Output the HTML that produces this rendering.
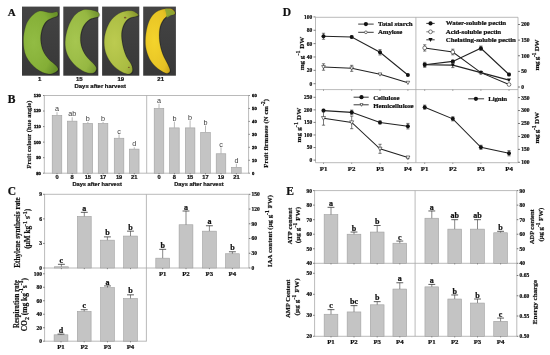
<!DOCTYPE html><html><head><meta charset="utf-8"><style>html,body{margin:0;padding:0;background:#fff;}svg{display:block;filter:blur(0.3px);} text{stroke:#111;stroke-width:0.22px;} .lt{stroke:none;fill:#3a3a3a;} .ns{stroke-width:0.2px;} .hv{stroke-width:0.45px;}</style></head><body>
<svg width="550" height="355" viewBox="0 0 550 355">
<rect x="0" y="0" width="550" height="355" fill="#ffffff"/>
<defs>
<linearGradient id="bg" x1="0" y1="0" x2="0" y2="1"><stop offset="0" stop-color="#444444"/><stop offset="1" stop-color="#383838"/></linearGradient>
<radialGradient id="g1" cx="0.3" cy="0.5" r="0.75"><stop offset="0" stop-color="#92bc44"/><stop offset="0.7" stop-color="#84ae36"/><stop offset="1" stop-color="#6a922a"/></radialGradient>
<radialGradient id="g2" cx="0.3" cy="0.5" r="0.75"><stop offset="0" stop-color="#a6c650"/><stop offset="0.7" stop-color="#96b842"/><stop offset="1" stop-color="#789a32"/></radialGradient>
<radialGradient id="g3" cx="0.3" cy="0.5" r="0.75"><stop offset="0" stop-color="#bccb50"/><stop offset="0.7" stop-color="#aabc42"/><stop offset="1" stop-color="#8c9c30"/></radialGradient>
<radialGradient id="g4" cx="0.3" cy="0.5" r="0.75"><stop offset="0" stop-color="#f4d42c"/><stop offset="0.7" stop-color="#e6c224"/><stop offset="1" stop-color="#c09a18"/></radialGradient>
</defs>
<text x="11.80" y="16.00" font-family='"Liberation Serif", serif' font-size="11" font-weight="bold" text-anchor="middle" fill="#111111">A</text>
<rect x="22.00" y="6.60" width="37.70" height="69.10" fill="url(#bg)"/>
<path d="M 57.06 11.78 C 55.93 11.26 53.54 12.93 50.65 12.82 C 47.76 12.70 42.94 10.46 39.72 11.09 C 36.50 11.72 33.64 14.13 31.31 16.62 C 28.98 19.11 27.05 22.02 25.73 26.02 C 24.42 30.01 23.36 35.55 23.43 40.60 C 23.50 45.64 23.97 51.58 26.15 56.28 C 28.33 60.98 32.72 65.83 36.51 68.79 C 40.31 71.75 45.40 73.77 48.92 74.04 C 52.44 74.32 56.41 71.84 57.63 70.45 C 58.84 69.05 57.65 67.52 56.19 65.68 C 54.74 63.84 51.10 61.83 48.92 59.39 C 46.74 56.95 44.49 54.16 43.11 51.03 C 41.74 47.90 40.90 44.08 40.66 40.60 C 40.42 37.12 40.82 33.30 41.68 30.16 C 42.54 27.03 44.10 23.83 45.83 21.80 C 47.55 19.78 50.11 18.98 52.05 18.00 C 53.98 17.02 56.60 16.97 57.44 15.93 C 58.27 14.89 58.19 12.30 57.06 11.78 Z" fill="rgba(0,0,0,0.28)" transform="translate(0.9 0.6)"/>
<path d="M 57.06 11.78 C 55.93 11.26 53.54 12.93 50.65 12.82 C 47.76 12.70 42.94 10.46 39.72 11.09 C 36.50 11.72 33.64 14.13 31.31 16.62 C 28.98 19.11 27.05 22.02 25.73 26.02 C 24.42 30.01 23.36 35.55 23.43 40.60 C 23.50 45.64 23.97 51.58 26.15 56.28 C 28.33 60.98 32.72 65.83 36.51 68.79 C 40.31 71.75 45.40 73.77 48.92 74.04 C 52.44 74.32 56.41 71.84 57.63 70.45 C 58.84 69.05 57.65 67.52 56.19 65.68 C 54.74 63.84 51.10 61.83 48.92 59.39 C 46.74 56.95 44.49 54.16 43.11 51.03 C 41.74 47.90 40.90 44.08 40.66 40.60 C 40.42 37.12 40.82 33.30 41.68 30.16 C 42.54 27.03 44.10 23.83 45.83 21.80 C 47.55 19.78 50.11 18.98 52.05 18.00 C 53.98 17.02 56.60 16.97 57.44 15.93 C 58.27 14.89 58.19 12.30 57.06 11.78 Z" fill="url(#g1)" stroke="rgba(40,50,20,0.35)" stroke-width="0.6"/>
<rect x="63.30" y="6.60" width="35.00" height="69.10" fill="url(#bg)"/>
<path d="M 98.30 12.47 C 97.13 11.36 93.87 10.34 91.30 9.92 C 88.73 9.49 85.70 8.97 82.90 9.92 C 80.10 10.86 76.95 12.73 74.50 15.58 C 72.05 18.44 69.75 22.70 68.20 27.05 C 66.65 31.41 65.35 37.18 65.19 41.70 C 65.03 46.23 65.70 50.39 67.25 54.21 C 68.81 58.03 71.54 61.68 74.50 64.64 C 77.46 67.60 81.87 70.59 85.00 71.97 C 88.13 73.35 91.39 73.47 93.30 72.94 C 95.20 72.41 96.23 70.17 96.41 68.79 C 96.58 67.41 95.90 66.56 94.34 64.64 C 92.79 62.73 89.18 60.11 87.10 57.32 C 85.02 54.53 82.97 51.23 81.85 47.92 C 80.73 44.62 80.20 40.97 80.38 37.49 C 80.55 34.01 81.44 30.01 82.90 27.05 C 84.36 24.09 86.56 21.47 89.13 19.73 C 91.70 17.99 96.77 17.83 98.30 16.62 C 99.83 15.41 99.47 13.59 98.30 12.47 Z" fill="rgba(0,0,0,0.28)" transform="translate(0.9 0.6)"/>
<path d="M 98.30 12.47 C 97.13 11.36 93.87 10.34 91.30 9.92 C 88.73 9.49 85.70 8.97 82.90 9.92 C 80.10 10.86 76.95 12.73 74.50 15.58 C 72.05 18.44 69.75 22.70 68.20 27.05 C 66.65 31.41 65.35 37.18 65.19 41.70 C 65.03 46.23 65.70 50.39 67.25 54.21 C 68.81 58.03 71.54 61.68 74.50 64.64 C 77.46 67.60 81.87 70.59 85.00 71.97 C 88.13 73.35 91.39 73.47 93.30 72.94 C 95.20 72.41 96.23 70.17 96.41 68.79 C 96.58 67.41 95.90 66.56 94.34 64.64 C 92.79 62.73 89.18 60.11 87.10 57.32 C 85.02 54.53 82.97 51.23 81.85 47.92 C 80.73 44.62 80.20 40.97 80.38 37.49 C 80.55 34.01 81.44 30.01 82.90 27.05 C 84.36 24.09 86.56 21.47 89.13 19.73 C 91.70 17.99 96.77 17.83 98.30 16.62 C 99.83 15.41 99.47 13.59 98.30 12.47 Z" fill="url(#g2)" stroke="rgba(40,50,20,0.35)" stroke-width="0.6"/>
<rect x="102.10" y="6.60" width="37.20" height="69.10" fill="url(#bg)"/>
<path d="M 138.26 14.55 C 137.39 13.64 134.27 11.09 131.38 10.75 C 128.49 10.40 124.23 10.98 120.92 12.47 C 117.61 13.97 114.02 16.61 111.51 19.73 C 109.00 22.85 107.08 27.36 105.86 31.20 C 104.64 35.03 104.11 38.90 104.18 42.74 C 104.25 46.57 104.88 50.56 106.27 54.21 C 107.66 57.86 109.90 61.68 112.52 64.64 C 115.13 67.60 119.17 70.40 121.96 71.97 C 124.75 73.53 127.51 74.23 129.26 74.04 C 131.00 73.86 132.06 72.43 132.42 70.86 C 132.77 69.30 132.42 67.07 131.38 64.64 C 130.33 62.21 127.60 59.59 126.13 56.28 C 124.66 52.98 123.33 48.64 122.56 44.81 C 121.79 40.99 121.27 36.82 121.52 33.34 C 121.77 29.86 122.76 26.45 124.05 23.94 C 125.34 21.43 127.17 19.57 129.26 18.28 C 131.35 16.99 135.08 16.83 136.58 16.20 C 138.08 15.58 139.13 15.46 138.26 14.55 Z" fill="rgba(0,0,0,0.28)" transform="translate(0.9 0.6)"/>
<path d="M 138.26 14.55 C 137.39 13.64 134.27 11.09 131.38 10.75 C 128.49 10.40 124.23 10.98 120.92 12.47 C 117.61 13.97 114.02 16.61 111.51 19.73 C 109.00 22.85 107.08 27.36 105.86 31.20 C 104.64 35.03 104.11 38.90 104.18 42.74 C 104.25 46.57 104.88 50.56 106.27 54.21 C 107.66 57.86 109.90 61.68 112.52 64.64 C 115.13 67.60 119.17 70.40 121.96 71.97 C 124.75 73.53 127.51 74.23 129.26 74.04 C 131.00 73.86 132.06 72.43 132.42 70.86 C 132.77 69.30 132.42 67.07 131.38 64.64 C 130.33 62.21 127.60 59.59 126.13 56.28 C 124.66 52.98 123.33 48.64 122.56 44.81 C 121.79 40.99 121.27 36.82 121.52 33.34 C 121.77 29.86 122.76 26.45 124.05 23.94 C 125.34 21.43 127.17 19.57 129.26 18.28 C 131.35 16.99 135.08 16.83 136.58 16.20 C 138.08 15.58 139.13 15.46 138.26 14.55 Z" fill="url(#g3)" stroke="rgba(40,50,20,0.35)" stroke-width="0.6"/>
<ellipse cx="125.16" cy="17.66" rx="1.3" ry="0.8" fill="#7a5a2a"/>
<ellipse cx="128.88" cy="67.41" rx="0.9" ry="0.6" fill="#7a5a2a"/>
<rect x="143.20" y="6.60" width="32.70" height="69.10" fill="url(#bg)"/>
<path d="M 174.43 11.44 C 173.87 10.53 173.05 9.03 171.09 8.67 C 169.14 8.32 165.49 8.49 162.69 9.29 C 159.89 10.10 156.69 11.24 154.32 13.51 C 151.94 15.78 149.90 18.91 148.43 22.91 C 146.97 26.90 145.87 32.97 145.52 37.49 C 145.17 42.00 145.40 45.99 146.34 49.99 C 147.28 54.00 148.98 58.23 151.18 61.53 C 153.38 64.84 156.93 67.85 159.55 69.83 C 162.17 71.81 165.13 73.25 166.87 73.42 C 168.62 73.59 169.84 72.33 170.01 70.86 C 170.19 69.40 169.14 67.42 167.92 64.64 C 166.70 61.87 164.08 58.03 162.69 54.21 C 161.29 50.39 160.07 45.88 159.55 41.70 C 159.03 37.52 159.03 32.62 159.55 29.13 C 160.07 25.64 161.29 23.02 162.69 20.77 C 164.08 18.51 165.96 16.69 167.92 15.58 C 169.88 14.48 173.34 14.82 174.43 14.13 C 175.51 13.44 174.98 12.35 174.43 11.44 Z" fill="rgba(0,0,0,0.28)" transform="translate(0.9 0.6)"/>
<path d="M 174.43 11.44 C 173.87 10.53 173.05 9.03 171.09 8.67 C 169.14 8.32 165.49 8.49 162.69 9.29 C 159.89 10.10 156.69 11.24 154.32 13.51 C 151.94 15.78 149.90 18.91 148.43 22.91 C 146.97 26.90 145.87 32.97 145.52 37.49 C 145.17 42.00 145.40 45.99 146.34 49.99 C 147.28 54.00 148.98 58.23 151.18 61.53 C 153.38 64.84 156.93 67.85 159.55 69.83 C 162.17 71.81 165.13 73.25 166.87 73.42 C 168.62 73.59 169.84 72.33 170.01 70.86 C 170.19 69.40 169.14 67.42 167.92 64.64 C 166.70 61.87 164.08 58.03 162.69 54.21 C 161.29 50.39 160.07 45.88 159.55 41.70 C 159.03 37.52 159.03 32.62 159.55 29.13 C 160.07 25.64 161.29 23.02 162.69 20.77 C 164.08 18.51 165.96 16.69 167.92 15.58 C 169.88 14.48 173.34 14.82 174.43 14.13 C 175.51 13.44 174.98 12.35 174.43 11.44 Z" fill="url(#g4)" stroke="rgba(40,50,20,0.35)" stroke-width="0.6"/>
<path d="M 164.78 9.02 Q 169.36 7.98 174.43 11.44 L 174.43 14.13 Q 170.67 14.89 166.74 17.66 Q 166.09 12.13 164.78 9.02 Z" fill="#8aa634" opacity="0.9"/>
<text x="39.70" y="81.30" font-family='"Liberation Sans", sans-serif' font-size="6.0" font-weight="bold" text-anchor="middle" fill="#111111" stroke="#111111" stroke-width="0.2">1</text>
<text x="79.30" y="81.30" font-family='"Liberation Sans", sans-serif' font-size="6.0" font-weight="bold" text-anchor="middle" fill="#111111" stroke="#111111" stroke-width="0.2">15</text>
<text x="120.80" y="81.30" font-family='"Liberation Sans", sans-serif' font-size="6.0" font-weight="bold" text-anchor="middle" fill="#111111" stroke="#111111" stroke-width="0.2">19</text>
<text x="160.70" y="81.30" font-family='"Liberation Sans", sans-serif' font-size="6.0" font-weight="bold" text-anchor="middle" fill="#111111" stroke="#111111" stroke-width="0.2">21</text>
<text x="100.25" y="88.30" font-family='"Liberation Sans", sans-serif' font-size="6.0" font-weight="bold" text-anchor="middle" fill="#111111" textLength="51.5" lengthAdjust="spacingAndGlyphs" stroke="#111111" stroke-width="0.25">Days after harvest</text>
<text x="11.50" y="102.80" font-family='"Liberation Serif", serif' font-size="11.5" font-weight="bold" text-anchor="middle" fill="#111111">B</text>
<line x1="44.30" y1="95.50" x2="248.60" y2="95.50" stroke="#a8a8a8" stroke-width="0.8"/>
<line x1="44.30" y1="95.50" x2="44.30" y2="173.20" stroke="#a8a8a8" stroke-width="0.8"/>
<line x1="146.70" y1="95.50" x2="146.70" y2="173.20" stroke="#a8a8a8" stroke-width="0.8"/>
<line x1="248.60" y1="95.50" x2="248.60" y2="173.20" stroke="#a8a8a8" stroke-width="0.8"/>
<line x1="44.30" y1="173.20" x2="248.60" y2="173.20" stroke="#a8a8a8" stroke-width="0.8"/>
<line x1="43.10" y1="173.20" x2="44.30" y2="173.20" stroke="#444" stroke-width="0.7"/>
<g transform="translate(40.80 174.64) scale(0.8 0.78)"><text class="hv" x="0" y="0" font-family='"Liberation Sans", sans-serif' font-size="5.2" font-weight="bold" text-anchor="end" fill="#111111">80</text></g>
<line x1="43.10" y1="157.66" x2="44.30" y2="157.66" stroke="#444" stroke-width="0.7"/>
<g transform="translate(40.80 159.10) scale(0.8 0.78)"><text class="hv" x="0" y="0" font-family='"Liberation Sans", sans-serif' font-size="5.2" font-weight="bold" text-anchor="end" fill="#111111">90</text></g>
<line x1="43.10" y1="142.12" x2="44.30" y2="142.12" stroke="#444" stroke-width="0.7"/>
<g transform="translate(40.80 143.56) scale(0.8 0.78)"><text class="hv" x="0" y="0" font-family='"Liberation Sans", sans-serif' font-size="5.2" font-weight="bold" text-anchor="end" fill="#111111">100</text></g>
<line x1="43.10" y1="126.58" x2="44.30" y2="126.58" stroke="#444" stroke-width="0.7"/>
<g transform="translate(40.80 128.02) scale(0.8 0.78)"><text class="hv" x="0" y="0" font-family='"Liberation Sans", sans-serif' font-size="5.2" font-weight="bold" text-anchor="end" fill="#111111">110</text></g>
<line x1="43.10" y1="111.04" x2="44.30" y2="111.04" stroke="#444" stroke-width="0.7"/>
<g transform="translate(40.80 112.48) scale(0.8 0.78)"><text class="hv" x="0" y="0" font-family='"Liberation Sans", sans-serif' font-size="5.2" font-weight="bold" text-anchor="end" fill="#111111">120</text></g>
<line x1="43.10" y1="95.50" x2="44.30" y2="95.50" stroke="#444" stroke-width="0.7"/>
<g transform="translate(40.80 96.94) scale(0.8 0.78)"><text class="hv" x="0" y="0" font-family='"Liberation Sans", sans-serif' font-size="5.2" font-weight="bold" text-anchor="end" fill="#111111">130</text></g>
<rect x="52.20" y="115.39" width="9.60" height="57.81" fill="#c4c4c4" stroke="#a0a0a0" stroke-width="0.6"/>
<line x1="57.00" y1="112.13" x2="57.00" y2="115.39" stroke="#b0b0b0" stroke-width="0.9"/>
<line x1="57.00" y1="173.20" x2="57.00" y2="174.40" stroke="#555" stroke-width="0.6"/>
<text x="57.00" y="111.33" font-family='"Liberation Sans", sans-serif' font-size="7.2" font-weight="normal" text-anchor="middle" fill="#111111" class="lt">a</text>
<rect x="67.40" y="121.14" width="9.60" height="52.06" fill="#c4c4c4" stroke="#a0a0a0" stroke-width="0.6"/>
<line x1="72.20" y1="117.26" x2="72.20" y2="121.14" stroke="#b0b0b0" stroke-width="0.9"/>
<line x1="72.20" y1="173.20" x2="72.20" y2="174.40" stroke="#555" stroke-width="0.6"/>
<text x="72.20" y="116.46" font-family='"Liberation Sans", sans-serif' font-size="7.2" font-weight="normal" text-anchor="middle" fill="#111111" class="lt">ab</text>
<rect x="83.05" y="123.47" width="9.60" height="49.73" fill="#c4c4c4" stroke="#a0a0a0" stroke-width="0.6"/>
<line x1="87.85" y1="121.92" x2="87.85" y2="123.47" stroke="#b0b0b0" stroke-width="0.9"/>
<line x1="87.85" y1="173.20" x2="87.85" y2="174.40" stroke="#555" stroke-width="0.6"/>
<text x="87.85" y="121.12" font-family='"Liberation Sans", sans-serif' font-size="7.2" font-weight="normal" text-anchor="middle" fill="#111111" class="lt">b</text>
<rect x="98.25" y="123.47" width="9.60" height="49.73" fill="#c4c4c4" stroke="#a0a0a0" stroke-width="0.6"/>
<line x1="103.05" y1="121.92" x2="103.05" y2="123.47" stroke="#b0b0b0" stroke-width="0.9"/>
<line x1="103.05" y1="173.20" x2="103.05" y2="174.40" stroke="#555" stroke-width="0.6"/>
<text x="103.05" y="121.12" font-family='"Liberation Sans", sans-serif' font-size="7.2" font-weight="normal" text-anchor="middle" fill="#111111" class="lt">b</text>
<rect x="114.25" y="138.23" width="9.60" height="34.97" fill="#c4c4c4" stroke="#a0a0a0" stroke-width="0.6"/>
<line x1="119.05" y1="134.35" x2="119.05" y2="138.23" stroke="#b0b0b0" stroke-width="0.9"/>
<line x1="119.05" y1="173.20" x2="119.05" y2="174.40" stroke="#555" stroke-width="0.6"/>
<text x="119.05" y="133.55" font-family='"Liberation Sans", sans-serif' font-size="7.2" font-weight="normal" text-anchor="middle" fill="#111111" class="lt">c</text>
<rect x="129.45" y="149.11" width="9.60" height="24.09" fill="#c4c4c4" stroke="#a0a0a0" stroke-width="0.6"/>
<line x1="134.25" y1="147.25" x2="134.25" y2="149.11" stroke="#b0b0b0" stroke-width="0.9"/>
<line x1="134.25" y1="173.20" x2="134.25" y2="174.40" stroke="#555" stroke-width="0.6"/>
<text x="134.25" y="146.45" font-family='"Liberation Sans", sans-serif' font-size="7.2" font-weight="normal" text-anchor="middle" fill="#111111" class="lt">d</text>
<text x="57.00" y="179.20" font-family='"Liberation Sans", sans-serif' font-size="5.7" font-weight="bold" text-anchor="middle" fill="#111111">0</text>
<text x="72.20" y="179.20" font-family='"Liberation Sans", sans-serif' font-size="5.7" font-weight="bold" text-anchor="middle" fill="#111111">8</text>
<text x="87.85" y="179.20" font-family='"Liberation Sans", sans-serif' font-size="5.7" font-weight="bold" text-anchor="middle" fill="#111111">15</text>
<text x="103.05" y="179.20" font-family='"Liberation Sans", sans-serif' font-size="5.7" font-weight="bold" text-anchor="middle" fill="#111111">17</text>
<text x="119.05" y="179.20" font-family='"Liberation Sans", sans-serif' font-size="5.7" font-weight="bold" text-anchor="middle" fill="#111111">19</text>
<text x="134.25" y="179.20" font-family='"Liberation Sans", sans-serif' font-size="5.7" font-weight="bold" text-anchor="middle" fill="#111111">21</text>
<text x="97.10" y="185.50" font-family='"Liberation Sans", sans-serif' font-size="5.75" font-weight="bold" text-anchor="middle" fill="#111111" textLength="49.4" lengthAdjust="spacingAndGlyphs" stroke="#111111" stroke-width="0.25">Days after harvest</text>
<text id="rl1" x="30.88" y="134.50" font-family='"Liberation Serif", serif' font-size="6.3" font-weight="bold" text-anchor="middle" fill="#111111" textLength="67.8" lengthAdjust="spacing" class="ns" transform="rotate(-90 30.88 134.50)">Fruit colour (hue angle)</text>
<line x1="248.60" y1="173.20" x2="249.80" y2="173.20" stroke="#444" stroke-width="0.7"/>
<g transform="translate(252.10 174.64) scale(0.8 0.78)"><text class="hv" x="0" y="0" font-family='"Liberation Sans", sans-serif' font-size="5.2" font-weight="bold" text-anchor="start" fill="#111111">0</text></g>
<line x1="248.60" y1="160.25" x2="249.80" y2="160.25" stroke="#444" stroke-width="0.7"/>
<g transform="translate(252.10 161.69) scale(0.8 0.78)"><text class="hv" x="0" y="0" font-family='"Liberation Sans", sans-serif' font-size="5.2" font-weight="bold" text-anchor="start" fill="#111111">10</text></g>
<line x1="248.60" y1="147.30" x2="249.80" y2="147.30" stroke="#444" stroke-width="0.7"/>
<g transform="translate(252.10 148.74) scale(0.8 0.78)"><text class="hv" x="0" y="0" font-family='"Liberation Sans", sans-serif' font-size="5.2" font-weight="bold" text-anchor="start" fill="#111111">20</text></g>
<line x1="248.60" y1="134.35" x2="249.80" y2="134.35" stroke="#444" stroke-width="0.7"/>
<g transform="translate(252.10 135.79) scale(0.8 0.78)"><text class="hv" x="0" y="0" font-family='"Liberation Sans", sans-serif' font-size="5.2" font-weight="bold" text-anchor="start" fill="#111111">30</text></g>
<line x1="248.60" y1="121.40" x2="249.80" y2="121.40" stroke="#444" stroke-width="0.7"/>
<g transform="translate(252.10 122.84) scale(0.8 0.78)"><text class="hv" x="0" y="0" font-family='"Liberation Sans", sans-serif' font-size="5.2" font-weight="bold" text-anchor="start" fill="#111111">40</text></g>
<line x1="248.60" y1="108.45" x2="249.80" y2="108.45" stroke="#444" stroke-width="0.7"/>
<g transform="translate(252.10 109.89) scale(0.8 0.78)"><text class="hv" x="0" y="0" font-family='"Liberation Sans", sans-serif' font-size="5.2" font-weight="bold" text-anchor="start" fill="#111111">50</text></g>
<line x1="248.60" y1="95.50" x2="249.80" y2="95.50" stroke="#444" stroke-width="0.7"/>
<g transform="translate(252.10 96.94) scale(0.8 0.78)"><text class="hv" x="0" y="0" font-family='"Liberation Sans", sans-serif' font-size="5.2" font-weight="bold" text-anchor="start" fill="#111111">60</text></g>
<rect x="154.20" y="108.45" width="9.60" height="64.75" fill="#c4c4c4" stroke="#a0a0a0" stroke-width="0.6"/>
<line x1="159.00" y1="103.79" x2="159.00" y2="108.45" stroke="#b0b0b0" stroke-width="0.9"/>
<line x1="159.00" y1="173.20" x2="159.00" y2="174.40" stroke="#555" stroke-width="0.6"/>
<text x="159.00" y="102.99" font-family='"Liberation Sans", sans-serif' font-size="7.2" font-weight="normal" text-anchor="middle" fill="#111111" class="lt">a</text>
<rect x="169.60" y="127.88" width="9.60" height="45.32" fill="#c4c4c4" stroke="#a0a0a0" stroke-width="0.6"/>
<line x1="174.40" y1="121.66" x2="174.40" y2="127.88" stroke="#b0b0b0" stroke-width="0.9"/>
<line x1="174.40" y1="173.20" x2="174.40" y2="174.40" stroke="#555" stroke-width="0.6"/>
<text x="174.40" y="120.86" font-family='"Liberation Sans", sans-serif' font-size="7.2" font-weight="normal" text-anchor="middle" fill="#111111" class="lt">b</text>
<rect x="185.30" y="127.88" width="9.60" height="45.32" fill="#c4c4c4" stroke="#a0a0a0" stroke-width="0.6"/>
<line x1="190.10" y1="120.36" x2="190.10" y2="127.88" stroke="#b0b0b0" stroke-width="0.9"/>
<line x1="190.10" y1="173.20" x2="190.10" y2="174.40" stroke="#555" stroke-width="0.6"/>
<text x="190.10" y="119.56" font-family='"Liberation Sans", sans-serif' font-size="7.2" font-weight="normal" text-anchor="middle" fill="#111111" class="lt">b</text>
<rect x="200.70" y="132.41" width="9.60" height="40.79" fill="#c4c4c4" stroke="#a0a0a0" stroke-width="0.6"/>
<line x1="205.50" y1="125.54" x2="205.50" y2="132.41" stroke="#b0b0b0" stroke-width="0.9"/>
<line x1="205.50" y1="173.20" x2="205.50" y2="174.40" stroke="#555" stroke-width="0.6"/>
<text x="205.50" y="124.74" font-family='"Liberation Sans", sans-serif' font-size="7.2" font-weight="normal" text-anchor="middle" fill="#111111" class="lt">b</text>
<rect x="216.20" y="153.77" width="9.60" height="19.43" fill="#c4c4c4" stroke="#a0a0a0" stroke-width="0.6"/>
<line x1="221.00" y1="147.30" x2="221.00" y2="153.77" stroke="#b0b0b0" stroke-width="0.9"/>
<line x1="221.00" y1="173.20" x2="221.00" y2="174.40" stroke="#555" stroke-width="0.6"/>
<text x="221.00" y="146.50" font-family='"Liberation Sans", sans-serif' font-size="7.2" font-weight="normal" text-anchor="middle" fill="#111111" class="lt">c</text>
<rect x="231.60" y="167.37" width="9.60" height="5.83" fill="#c4c4c4" stroke="#a0a0a0" stroke-width="0.6"/>
<line x1="236.40" y1="163.88" x2="236.40" y2="167.37" stroke="#b0b0b0" stroke-width="0.9"/>
<line x1="236.40" y1="173.20" x2="236.40" y2="174.40" stroke="#555" stroke-width="0.6"/>
<text x="236.40" y="163.08" font-family='"Liberation Sans", sans-serif' font-size="7.2" font-weight="normal" text-anchor="middle" fill="#111111" class="lt">d</text>
<text x="159.00" y="179.20" font-family='"Liberation Sans", sans-serif' font-size="5.7" font-weight="bold" text-anchor="middle" fill="#111111">0</text>
<text x="174.40" y="179.20" font-family='"Liberation Sans", sans-serif' font-size="5.7" font-weight="bold" text-anchor="middle" fill="#111111">8</text>
<text x="190.10" y="179.20" font-family='"Liberation Sans", sans-serif' font-size="5.7" font-weight="bold" text-anchor="middle" fill="#111111">15</text>
<text x="205.50" y="179.20" font-family='"Liberation Sans", sans-serif' font-size="5.7" font-weight="bold" text-anchor="middle" fill="#111111">17</text>
<text x="221.00" y="179.20" font-family='"Liberation Sans", sans-serif' font-size="5.7" font-weight="bold" text-anchor="middle" fill="#111111">19</text>
<text x="236.40" y="179.20" font-family='"Liberation Sans", sans-serif' font-size="5.7" font-weight="bold" text-anchor="middle" fill="#111111">21</text>
<text x="198.90" y="185.50" font-family='"Liberation Sans", sans-serif' font-size="5.75" font-weight="bold" text-anchor="middle" fill="#111111" textLength="49.4" lengthAdjust="spacingAndGlyphs" stroke="#111111" stroke-width="0.25">Days after harvest</text>
<text id="rl2" x="267.94" y="133.30" font-family='"Liberation Serif", serif' font-size="6.5" font-weight="bold" text-anchor="middle" fill="#111111" textLength="68.7" lengthAdjust="spacing" class="ns" transform="rotate(-90 267.94 133.30)">Fruit firmness (N cm<tspan font-size="5.2" dy="-2.9">-2</tspan><tspan dy="2.9">)</tspan></text>
<text x="11.90" y="195.00" font-family='"Liberation Serif", serif' font-size="11.5" font-weight="bold" text-anchor="middle" fill="#111111">C</text>
<line x1="44.60" y1="194.30" x2="248.90" y2="194.30" stroke="#a8a8a8" stroke-width="0.8"/>
<line x1="44.60" y1="194.30" x2="44.60" y2="341.50" stroke="#a8a8a8" stroke-width="0.8"/>
<line x1="146.40" y1="194.30" x2="146.40" y2="341.50" stroke="#a8a8a8" stroke-width="0.8"/>
<line x1="248.90" y1="194.30" x2="248.90" y2="268.00" stroke="#a8a8a8" stroke-width="0.8"/>
<line x1="44.60" y1="268.00" x2="248.90" y2="268.00" stroke="#a8a8a8" stroke-width="0.8"/>
<line x1="43.10" y1="268.00" x2="44.60" y2="268.00" stroke="#444" stroke-width="0.7"/>
<text x="41.90" y="269.90" font-family='"Liberation Serif", serif' font-size="5.5" font-weight="bold" text-anchor="end" fill="#111111">0</text>
<line x1="43.10" y1="243.43" x2="44.60" y2="243.43" stroke="#444" stroke-width="0.7"/>
<text x="41.90" y="245.33" font-family='"Liberation Serif", serif' font-size="5.5" font-weight="bold" text-anchor="end" fill="#111111">3</text>
<line x1="43.10" y1="218.87" x2="44.60" y2="218.87" stroke="#444" stroke-width="0.7"/>
<text x="41.90" y="220.77" font-family='"Liberation Serif", serif' font-size="5.5" font-weight="bold" text-anchor="end" fill="#111111">6</text>
<line x1="43.10" y1="194.30" x2="44.60" y2="194.30" stroke="#444" stroke-width="0.7"/>
<text x="41.90" y="196.20" font-family='"Liberation Serif", serif' font-size="5.5" font-weight="bold" text-anchor="end" fill="#111111">9</text>
<rect x="54.50" y="266.77" width="13.80" height="1.23" fill="#c4c4c4" stroke="#a0a0a0" stroke-width="0.6"/>
<line x1="61.40" y1="264.31" x2="61.40" y2="266.77" stroke="#7a7a7a" stroke-width="0.9"/>
<line x1="57.95" y1="264.31" x2="64.85" y2="264.31" stroke="#333" stroke-width="0.8"/>
<line x1="61.40" y1="268.00" x2="61.40" y2="269.20" stroke="#555" stroke-width="0.6"/>
<text x="61.40" y="262.92" font-family='"Liberation Serif", serif' font-size="8" font-weight="bold" text-anchor="middle" fill="#111111">c</text>
<rect x="77.40" y="216.41" width="13.80" height="51.59" fill="#c4c4c4" stroke="#a0a0a0" stroke-width="0.6"/>
<line x1="84.30" y1="212.32" x2="84.30" y2="216.41" stroke="#7a7a7a" stroke-width="0.9"/>
<line x1="80.85" y1="212.32" x2="87.75" y2="212.32" stroke="#333" stroke-width="0.8"/>
<line x1="84.30" y1="268.00" x2="84.30" y2="269.20" stroke="#555" stroke-width="0.6"/>
<text x="84.30" y="210.92" font-family='"Liberation Serif", serif' font-size="8" font-weight="bold" text-anchor="middle" fill="#111111">a</text>
<rect x="100.50" y="240.16" width="13.80" height="27.84" fill="#c4c4c4" stroke="#a0a0a0" stroke-width="0.6"/>
<line x1="107.40" y1="236.88" x2="107.40" y2="240.16" stroke="#7a7a7a" stroke-width="0.9"/>
<line x1="103.95" y1="236.88" x2="110.85" y2="236.88" stroke="#333" stroke-width="0.8"/>
<line x1="107.40" y1="268.00" x2="107.40" y2="269.20" stroke="#555" stroke-width="0.6"/>
<text x="107.40" y="235.48" font-family='"Liberation Serif", serif' font-size="8" font-weight="bold" text-anchor="middle" fill="#111111">b</text>
<rect x="123.60" y="236.06" width="13.80" height="31.94" fill="#c4c4c4" stroke="#a0a0a0" stroke-width="0.6"/>
<line x1="130.50" y1="231.15" x2="130.50" y2="236.06" stroke="#7a7a7a" stroke-width="0.9"/>
<line x1="127.05" y1="231.15" x2="133.95" y2="231.15" stroke="#333" stroke-width="0.8"/>
<line x1="130.50" y1="268.00" x2="130.50" y2="269.20" stroke="#555" stroke-width="0.6"/>
<text x="130.50" y="229.75" font-family='"Liberation Serif", serif' font-size="8" font-weight="bold" text-anchor="middle" fill="#111111">b</text>
<text id="rl3" x="19.68" y="232.50" font-family='"Liberation Serif", serif' font-size="7.5" font-weight="bold" text-anchor="middle" fill="#111111" textLength="70.6" lengthAdjust="spacingAndGlyphs" class="ns" transform="rotate(-90 19.68 232.50)">Ethylene synthesis rate</text>
<text id="rl4" x="30.39" y="228.80" font-family='"Liberation Serif", serif' font-size="7.84" font-weight="bold" text-anchor="middle" fill="#111111" textLength="40" lengthAdjust="spacingAndGlyphs" class="ns" transform="rotate(-90 30.39 228.80)">(&#956;M kg<tspan font-size="6.50" dy="-3.58">-1</tspan><tspan dy="3.58"> s</tspan><tspan font-size="6.50" dy="-3.58">-1</tspan><tspan dy="3.58">)</tspan></text>
<line x1="248.90" y1="268.00" x2="250.40" y2="268.00" stroke="#444" stroke-width="0.7"/>
<text x="251.60" y="269.90" font-family='"Liberation Serif", serif' font-size="5.5" font-weight="bold" text-anchor="start" fill="#111111">0</text>
<line x1="248.90" y1="253.26" x2="250.40" y2="253.26" stroke="#444" stroke-width="0.7"/>
<text x="251.60" y="255.16" font-family='"Liberation Serif", serif' font-size="5.5" font-weight="bold" text-anchor="start" fill="#111111">30</text>
<line x1="248.90" y1="238.52" x2="250.40" y2="238.52" stroke="#444" stroke-width="0.7"/>
<text x="251.60" y="240.42" font-family='"Liberation Serif", serif' font-size="5.5" font-weight="bold" text-anchor="start" fill="#111111">60</text>
<line x1="248.90" y1="223.78" x2="250.40" y2="223.78" stroke="#444" stroke-width="0.7"/>
<text x="251.60" y="225.68" font-family='"Liberation Serif", serif' font-size="5.5" font-weight="bold" text-anchor="start" fill="#111111">90</text>
<line x1="248.90" y1="209.04" x2="250.40" y2="209.04" stroke="#444" stroke-width="0.7"/>
<text x="251.60" y="210.94" font-family='"Liberation Serif", serif' font-size="5.5" font-weight="bold" text-anchor="start" fill="#111111">120</text>
<line x1="248.90" y1="194.30" x2="250.40" y2="194.30" stroke="#444" stroke-width="0.7"/>
<text x="251.60" y="196.20" font-family='"Liberation Serif", serif' font-size="5.5" font-weight="bold" text-anchor="start" fill="#111111">150</text>
<rect x="155.80" y="258.17" width="13.80" height="9.83" fill="#c4c4c4" stroke="#a0a0a0" stroke-width="0.6"/>
<line x1="162.70" y1="249.33" x2="162.70" y2="258.17" stroke="#7a7a7a" stroke-width="0.9"/>
<line x1="159.25" y1="249.33" x2="166.15" y2="249.33" stroke="#333" stroke-width="0.8"/>
<line x1="162.70" y1="268.00" x2="162.70" y2="269.20" stroke="#555" stroke-width="0.6"/>
<text x="162.70" y="247.93" font-family='"Liberation Serif", serif' font-size="8" font-weight="bold" text-anchor="middle" fill="#111111">b</text>
<rect x="179.10" y="224.76" width="13.80" height="43.24" fill="#c4c4c4" stroke="#a0a0a0" stroke-width="0.6"/>
<line x1="186.00" y1="211.01" x2="186.00" y2="224.76" stroke="#7a7a7a" stroke-width="0.9"/>
<line x1="182.55" y1="211.01" x2="189.45" y2="211.01" stroke="#333" stroke-width="0.8"/>
<line x1="186.00" y1="268.00" x2="186.00" y2="269.20" stroke="#555" stroke-width="0.6"/>
<text x="186.00" y="209.61" font-family='"Liberation Serif", serif' font-size="8" font-weight="bold" text-anchor="middle" fill="#111111">a</text>
<rect x="202.50" y="231.15" width="13.80" height="36.85" fill="#c4c4c4" stroke="#a0a0a0" stroke-width="0.6"/>
<line x1="209.40" y1="225.75" x2="209.40" y2="231.15" stroke="#7a7a7a" stroke-width="0.9"/>
<line x1="205.95" y1="225.75" x2="212.85" y2="225.75" stroke="#333" stroke-width="0.8"/>
<line x1="209.40" y1="268.00" x2="209.40" y2="269.20" stroke="#555" stroke-width="0.6"/>
<text x="209.40" y="224.35" font-family='"Liberation Serif", serif' font-size="8" font-weight="bold" text-anchor="middle" fill="#111111">a</text>
<rect x="225.50" y="253.75" width="13.80" height="14.25" fill="#c4c4c4" stroke="#a0a0a0" stroke-width="0.6"/>
<line x1="232.40" y1="251.79" x2="232.40" y2="253.75" stroke="#7a7a7a" stroke-width="0.9"/>
<line x1="228.95" y1="251.79" x2="235.85" y2="251.79" stroke="#333" stroke-width="0.8"/>
<line x1="232.40" y1="268.00" x2="232.40" y2="269.20" stroke="#555" stroke-width="0.6"/>
<text x="232.40" y="250.39" font-family='"Liberation Serif", serif' font-size="8" font-weight="bold" text-anchor="middle" fill="#111111">b</text>
<text x="162.70" y="275.60" font-family='"Liberation Serif", serif' font-size="6.8" font-weight="bold" text-anchor="middle" fill="#111111">P1</text>
<text x="186.00" y="275.60" font-family='"Liberation Serif", serif' font-size="6.8" font-weight="bold" text-anchor="middle" fill="#111111">P2</text>
<text x="209.40" y="275.60" font-family='"Liberation Serif", serif' font-size="6.8" font-weight="bold" text-anchor="middle" fill="#111111">P3</text>
<text x="232.40" y="275.60" font-family='"Liberation Serif", serif' font-size="6.8" font-weight="bold" text-anchor="middle" fill="#111111">P4</text>
<text id="rl5" x="271.81" y="231.00" font-family='"Liberation Serif", serif' font-size="6.7" font-weight="bold" text-anchor="middle" fill="#111111" textLength="72" lengthAdjust="spacing" class="ns" transform="rotate(-90 271.81 231.00)">IAA content (&#956;g g<tspan font-size="5.8" dy="-3.1">-1</tspan><tspan dy="3.1"> FW)</tspan></text>
<line x1="44.60" y1="341.20" x2="146.40" y2="341.20" stroke="#a8a8a8" stroke-width="0.8"/>
<line x1="43.10" y1="341.20" x2="44.60" y2="341.20" stroke="#444" stroke-width="0.7"/>
<text x="41.90" y="343.10" font-family='"Liberation Serif", serif' font-size="5.5" font-weight="bold" text-anchor="end" fill="#111111">0</text>
<line x1="43.10" y1="327.72" x2="44.60" y2="327.72" stroke="#444" stroke-width="0.7"/>
<text x="41.90" y="329.62" font-family='"Liberation Serif", serif' font-size="5.5" font-weight="bold" text-anchor="end" fill="#111111">20</text>
<line x1="43.10" y1="314.24" x2="44.60" y2="314.24" stroke="#444" stroke-width="0.7"/>
<text x="41.90" y="316.14" font-family='"Liberation Serif", serif' font-size="5.5" font-weight="bold" text-anchor="end" fill="#111111">40</text>
<line x1="43.10" y1="300.76" x2="44.60" y2="300.76" stroke="#444" stroke-width="0.7"/>
<text x="41.90" y="302.66" font-family='"Liberation Serif", serif' font-size="5.5" font-weight="bold" text-anchor="end" fill="#111111">60</text>
<line x1="43.10" y1="287.28" x2="44.60" y2="287.28" stroke="#444" stroke-width="0.7"/>
<text x="41.90" y="289.18" font-family='"Liberation Serif", serif' font-size="5.5" font-weight="bold" text-anchor="end" fill="#111111">80</text>
<line x1="43.10" y1="273.80" x2="44.60" y2="273.80" stroke="#444" stroke-width="0.7"/>
<text x="41.90" y="275.70" font-family='"Liberation Serif", serif' font-size="5.5" font-weight="bold" text-anchor="end" fill="#111111">100</text>
<rect x="54.10" y="334.80" width="13.80" height="6.40" fill="#c4c4c4" stroke="#a0a0a0" stroke-width="0.6"/>
<line x1="61.00" y1="334.12" x2="61.00" y2="334.80" stroke="#7a7a7a" stroke-width="0.9"/>
<line x1="57.55" y1="334.12" x2="64.45" y2="334.12" stroke="#333" stroke-width="0.8"/>
<line x1="61.00" y1="341.20" x2="61.00" y2="342.40" stroke="#555" stroke-width="0.6"/>
<text x="61.00" y="332.72" font-family='"Liberation Serif", serif' font-size="8" font-weight="bold" text-anchor="middle" fill="#111111">d</text>
<rect x="77.30" y="311.41" width="13.80" height="29.79" fill="#c4c4c4" stroke="#a0a0a0" stroke-width="0.6"/>
<line x1="84.20" y1="309.72" x2="84.20" y2="311.41" stroke="#7a7a7a" stroke-width="0.9"/>
<line x1="80.75" y1="309.72" x2="87.65" y2="309.72" stroke="#333" stroke-width="0.8"/>
<line x1="84.20" y1="341.20" x2="84.20" y2="342.40" stroke="#555" stroke-width="0.6"/>
<text x="84.20" y="308.32" font-family='"Liberation Serif", serif' font-size="8" font-weight="bold" text-anchor="middle" fill="#111111">c</text>
<rect x="100.60" y="287.62" width="13.80" height="53.58" fill="#c4c4c4" stroke="#a0a0a0" stroke-width="0.6"/>
<line x1="107.50" y1="285.93" x2="107.50" y2="287.62" stroke="#7a7a7a" stroke-width="0.9"/>
<line x1="104.05" y1="285.93" x2="110.95" y2="285.93" stroke="#333" stroke-width="0.8"/>
<line x1="107.50" y1="341.20" x2="107.50" y2="342.40" stroke="#555" stroke-width="0.6"/>
<text x="107.50" y="284.53" font-family='"Liberation Serif", serif' font-size="8" font-weight="bold" text-anchor="middle" fill="#111111">a</text>
<rect x="123.60" y="298.54" width="13.80" height="42.66" fill="#c4c4c4" stroke="#a0a0a0" stroke-width="0.6"/>
<line x1="130.50" y1="294.83" x2="130.50" y2="298.54" stroke="#7a7a7a" stroke-width="0.9"/>
<line x1="127.05" y1="294.83" x2="133.95" y2="294.83" stroke="#333" stroke-width="0.8"/>
<line x1="130.50" y1="341.20" x2="130.50" y2="342.40" stroke="#555" stroke-width="0.6"/>
<text x="130.50" y="293.43" font-family='"Liberation Serif", serif' font-size="8" font-weight="bold" text-anchor="middle" fill="#111111">b</text>
<text x="61.00" y="348.90" font-family='"Liberation Serif", serif' font-size="6.8" font-weight="bold" text-anchor="middle" fill="#111111">P1</text>
<text x="84.20" y="348.90" font-family='"Liberation Serif", serif' font-size="6.8" font-weight="bold" text-anchor="middle" fill="#111111">P2</text>
<text x="107.50" y="348.90" font-family='"Liberation Serif", serif' font-size="6.8" font-weight="bold" text-anchor="middle" fill="#111111">P3</text>
<text x="130.50" y="348.90" font-family='"Liberation Serif", serif' font-size="6.8" font-weight="bold" text-anchor="middle" fill="#111111">P4</text>
<text id="rl6" x="19.30" y="304.00" font-family='"Liberation Serif", serif' font-size="7.28" font-weight="bold" text-anchor="middle" fill="#111111" textLength="48" lengthAdjust="spacingAndGlyphs" class="ns" transform="rotate(-90 19.30 304.00)">Respiration rate</text>
<text id="rl7" x="26.59" y="304.60" font-family='"Liberation Serif", serif' font-size="7.84" font-weight="bold" text-anchor="middle" fill="#111111" textLength="53.4" lengthAdjust="spacingAndGlyphs" class="ns" transform="rotate(-90 26.59 304.60)">CO<tspan font-size="6.27" dy="2.02">2</tspan><tspan dy="-2.02"> (mg kg</tspan><tspan font-size="6.05" dy="-3.36">-1</tspan><tspan dy="3.36">s</tspan><tspan font-size="6.05" dy="-3.36">-1</tspan><tspan dy="3.36">)</tspan></text>
<text x="287.00" y="16.00" font-family='"Liberation Serif", serif' font-size="11.5" font-weight="bold" text-anchor="middle" fill="#111111">D</text>
<line x1="315.50" y1="17.30" x2="518.00" y2="17.30" stroke="#a8a8a8" stroke-width="0.8"/>
<line x1="315.50" y1="17.30" x2="315.50" y2="162.70" stroke="#a8a8a8" stroke-width="0.8"/>
<line x1="415.90" y1="17.30" x2="415.90" y2="162.70" stroke="#a8a8a8" stroke-width="0.8"/>
<line x1="518.00" y1="17.30" x2="518.00" y2="162.70" stroke="#a8a8a8" stroke-width="0.8"/>
<line x1="315.50" y1="89.60" x2="518.00" y2="89.60" stroke="#a8a8a8" stroke-width="0.8"/>
<line x1="315.50" y1="162.70" x2="518.00" y2="162.70" stroke="#a8a8a8" stroke-width="0.8"/>
<line x1="323.50" y1="89.60" x2="323.50" y2="90.80" stroke="#555" stroke-width="0.6"/>
<line x1="323.50" y1="162.70" x2="323.50" y2="163.90" stroke="#555" stroke-width="0.6"/>
<line x1="351.70" y1="89.60" x2="351.70" y2="90.80" stroke="#555" stroke-width="0.6"/>
<line x1="351.70" y1="162.70" x2="351.70" y2="163.90" stroke="#555" stroke-width="0.6"/>
<line x1="380.00" y1="89.60" x2="380.00" y2="90.80" stroke="#555" stroke-width="0.6"/>
<line x1="380.00" y1="162.70" x2="380.00" y2="163.90" stroke="#555" stroke-width="0.6"/>
<line x1="407.90" y1="89.60" x2="407.90" y2="90.80" stroke="#555" stroke-width="0.6"/>
<line x1="407.90" y1="162.70" x2="407.90" y2="163.90" stroke="#555" stroke-width="0.6"/>
<line x1="424.70" y1="89.60" x2="424.70" y2="90.80" stroke="#555" stroke-width="0.6"/>
<line x1="424.70" y1="162.70" x2="424.70" y2="163.90" stroke="#555" stroke-width="0.6"/>
<line x1="452.80" y1="89.60" x2="452.80" y2="90.80" stroke="#555" stroke-width="0.6"/>
<line x1="452.80" y1="162.70" x2="452.80" y2="163.90" stroke="#555" stroke-width="0.6"/>
<line x1="480.90" y1="89.60" x2="480.90" y2="90.80" stroke="#555" stroke-width="0.6"/>
<line x1="480.90" y1="162.70" x2="480.90" y2="163.90" stroke="#555" stroke-width="0.6"/>
<line x1="509.00" y1="89.60" x2="509.00" y2="90.80" stroke="#555" stroke-width="0.6"/>
<line x1="509.00" y1="162.70" x2="509.00" y2="163.90" stroke="#555" stroke-width="0.6"/>
<line x1="313.50" y1="83.70" x2="315.50" y2="83.70" stroke="#444" stroke-width="0.7"/>
<text x="312.30" y="85.60" font-family='"Liberation Serif", serif' font-size="5.5" font-weight="bold" text-anchor="end" fill="#111111">0</text>
<line x1="313.50" y1="70.34" x2="315.50" y2="70.34" stroke="#444" stroke-width="0.7"/>
<text x="312.30" y="72.24" font-family='"Liberation Serif", serif' font-size="5.5" font-weight="bold" text-anchor="end" fill="#111111">20</text>
<line x1="313.50" y1="56.98" x2="315.50" y2="56.98" stroke="#444" stroke-width="0.7"/>
<text x="312.30" y="58.88" font-family='"Liberation Serif", serif' font-size="5.5" font-weight="bold" text-anchor="end" fill="#111111">40</text>
<line x1="313.50" y1="43.62" x2="315.50" y2="43.62" stroke="#444" stroke-width="0.7"/>
<text x="312.30" y="45.52" font-family='"Liberation Serif", serif' font-size="5.5" font-weight="bold" text-anchor="end" fill="#111111">60</text>
<line x1="313.50" y1="30.26" x2="315.50" y2="30.26" stroke="#444" stroke-width="0.7"/>
<text x="312.30" y="32.16" font-family='"Liberation Serif", serif' font-size="5.5" font-weight="bold" text-anchor="end" fill="#111111">80</text>
<line x1="313.50" y1="16.90" x2="315.50" y2="16.90" stroke="#444" stroke-width="0.7"/>
<text x="312.30" y="18.80" font-family='"Liberation Serif", serif' font-size="5.5" font-weight="bold" text-anchor="end" fill="#111111">100</text>
<polyline points="323.50,36.27 351.70,36.94 380.00,52.30 407.90,75.02" fill="none" stroke="#222" stroke-width="1.05"/>
<line x1="323.50" y1="39.28" x2="323.50" y2="33.27" stroke="#222" stroke-width="0.6"/>
<line x1="321.90" y1="39.28" x2="325.10" y2="39.28" stroke="#222" stroke-width="0.6"/>
<line x1="321.90" y1="33.27" x2="325.10" y2="33.27" stroke="#222" stroke-width="0.6"/>
<circle cx="323.50" cy="36.27" r="2.0" fill="#111"/>
<line x1="351.70" y1="37.94" x2="351.70" y2="35.94" stroke="#222" stroke-width="0.6"/>
<line x1="350.10" y1="37.94" x2="353.30" y2="37.94" stroke="#222" stroke-width="0.6"/>
<line x1="350.10" y1="35.94" x2="353.30" y2="35.94" stroke="#222" stroke-width="0.6"/>
<circle cx="351.70" cy="36.94" r="2.0" fill="#111"/>
<line x1="380.00" y1="54.98" x2="380.00" y2="49.63" stroke="#222" stroke-width="0.6"/>
<line x1="378.40" y1="54.98" x2="381.60" y2="54.98" stroke="#222" stroke-width="0.6"/>
<line x1="378.40" y1="49.63" x2="381.60" y2="49.63" stroke="#222" stroke-width="0.6"/>
<circle cx="380.00" cy="52.30" r="2.0" fill="#111"/>
<circle cx="407.90" cy="75.02" r="2.0" fill="#111"/>
<polyline points="323.50,67.00 351.70,68.34 380.00,74.35 407.90,82.70" fill="none" stroke="#222" stroke-width="1.05"/>
<line x1="323.50" y1="70.21" x2="323.50" y2="63.79" stroke="#222" stroke-width="0.6"/>
<line x1="321.90" y1="70.21" x2="325.10" y2="70.21" stroke="#222" stroke-width="0.6"/>
<line x1="321.90" y1="63.79" x2="325.10" y2="63.79" stroke="#222" stroke-width="0.6"/>
<path d="M 321.70 65.56 L 325.30 65.56 L 323.50 68.80 Z" fill="#fff" stroke="#222" stroke-width="0.6"/>
<line x1="351.70" y1="71.34" x2="351.70" y2="65.33" stroke="#222" stroke-width="0.6"/>
<line x1="350.10" y1="71.34" x2="353.30" y2="71.34" stroke="#222" stroke-width="0.6"/>
<line x1="350.10" y1="65.33" x2="353.30" y2="65.33" stroke="#222" stroke-width="0.6"/>
<path d="M 349.90 66.90 L 353.50 66.90 L 351.70 70.14 Z" fill="#fff" stroke="#222" stroke-width="0.6"/>
<path d="M 378.20 72.91 L 381.80 72.91 L 380.00 76.15 Z" fill="#fff" stroke="#222" stroke-width="0.6"/>
<path d="M 406.10 81.26 L 409.70 81.26 L 407.90 84.50 Z" fill="#fff" stroke="#222" stroke-width="0.6"/>
<line x1="358.20" y1="24.10" x2="373.70" y2="24.10" stroke="#222" stroke-width="0.9"/>
<circle cx="365.90" cy="24.10" r="2.1" fill="#111"/>
<line x1="358.20" y1="32.30" x2="373.70" y2="32.30" stroke="#222" stroke-width="0.9"/>
<circle cx="365.90" cy="32.30" r="1.35" fill="#fff" stroke="#222" stroke-width="0.6"/>
<text x="378.00" y="26.30" font-family='"Liberation Serif", serif' font-size="6.9" font-weight="bold" text-anchor="start" fill="#111111" textLength="34.5" lengthAdjust="spacing">Total starch</text>
<text x="378.00" y="34.20" font-family='"Liberation Serif", serif' font-size="6.9" font-weight="bold" text-anchor="start" fill="#111111" textLength="24.4" lengthAdjust="spacing">Amylose</text>
<text id="rl8" x="303.71" y="53.50" font-family='"Liberation Serif", serif' font-size="7.0" font-weight="bold" text-anchor="middle" fill="#111111" textLength="33.5" lengthAdjust="spacing" class="ns" transform="rotate(-90 303.71 53.50)">mg g<tspan font-size="6.0" dy="-3.3">-1</tspan><tspan dy="3.3"> DW</tspan></text>
<line x1="518.00" y1="87.00" x2="520.00" y2="87.00" stroke="#444" stroke-width="0.7"/>
<text x="521.20" y="88.90" font-family='"Liberation Serif", serif' font-size="5.5" font-weight="bold" text-anchor="start" fill="#111111">0</text>
<line x1="518.00" y1="71.38" x2="520.00" y2="71.38" stroke="#444" stroke-width="0.7"/>
<text x="521.20" y="73.28" font-family='"Liberation Serif", serif' font-size="5.5" font-weight="bold" text-anchor="start" fill="#111111">50</text>
<line x1="518.00" y1="55.75" x2="520.00" y2="55.75" stroke="#444" stroke-width="0.7"/>
<text x="521.20" y="57.65" font-family='"Liberation Serif", serif' font-size="5.5" font-weight="bold" text-anchor="start" fill="#111111">100</text>
<line x1="518.00" y1="40.12" x2="520.00" y2="40.12" stroke="#444" stroke-width="0.7"/>
<text x="521.20" y="42.02" font-family='"Liberation Serif", serif' font-size="5.5" font-weight="bold" text-anchor="start" fill="#111111">150</text>
<line x1="518.00" y1="24.50" x2="520.00" y2="24.50" stroke="#444" stroke-width="0.7"/>
<text x="521.20" y="26.40" font-family='"Liberation Serif", serif' font-size="5.5" font-weight="bold" text-anchor="start" fill="#111111">200</text>
<polyline points="424.70,64.81 452.80,61.38 480.90,48.25 509.00,74.50" fill="none" stroke="#222" stroke-width="1.05"/>
<line x1="424.70" y1="66.38" x2="424.70" y2="63.25" stroke="#222" stroke-width="0.6"/>
<line x1="423.10" y1="66.38" x2="426.30" y2="66.38" stroke="#222" stroke-width="0.6"/>
<line x1="423.10" y1="63.25" x2="426.30" y2="63.25" stroke="#222" stroke-width="0.6"/>
<circle cx="424.70" cy="64.81" r="2.0" fill="#111"/>
<line x1="452.80" y1="62.62" x2="452.80" y2="60.12" stroke="#222" stroke-width="0.6"/>
<line x1="451.20" y1="62.62" x2="454.40" y2="62.62" stroke="#222" stroke-width="0.6"/>
<line x1="451.20" y1="60.12" x2="454.40" y2="60.12" stroke="#222" stroke-width="0.6"/>
<circle cx="452.80" cy="61.38" r="2.0" fill="#111"/>
<line x1="480.90" y1="50.44" x2="480.90" y2="46.06" stroke="#222" stroke-width="0.6"/>
<line x1="479.30" y1="50.44" x2="482.50" y2="50.44" stroke="#222" stroke-width="0.6"/>
<line x1="479.30" y1="46.06" x2="482.50" y2="46.06" stroke="#222" stroke-width="0.6"/>
<circle cx="480.90" cy="48.25" r="2.0" fill="#111"/>
<line x1="509.00" y1="75.75" x2="509.00" y2="73.25" stroke="#222" stroke-width="0.6"/>
<line x1="507.40" y1="75.75" x2="510.60" y2="75.75" stroke="#222" stroke-width="0.6"/>
<line x1="507.40" y1="73.25" x2="510.60" y2="73.25" stroke="#222" stroke-width="0.6"/>
<circle cx="509.00" cy="74.50" r="2.0" fill="#111"/>
<polyline points="424.70,47.94 452.80,52.00 480.90,72.62 509.00,84.50" fill="none" stroke="#222" stroke-width="1.05"/>
<line x1="424.70" y1="51.06" x2="424.70" y2="44.81" stroke="#222" stroke-width="0.6"/>
<line x1="423.10" y1="51.06" x2="426.30" y2="51.06" stroke="#222" stroke-width="0.6"/>
<line x1="423.10" y1="44.81" x2="426.30" y2="44.81" stroke="#222" stroke-width="0.6"/>
<circle cx="424.70" cy="47.94" r="1.89" fill="#fff" stroke="#222" stroke-width="0.6"/>
<line x1="452.80" y1="54.81" x2="452.80" y2="49.19" stroke="#222" stroke-width="0.6"/>
<line x1="451.20" y1="54.81" x2="454.40" y2="54.81" stroke="#222" stroke-width="0.6"/>
<line x1="451.20" y1="49.19" x2="454.40" y2="49.19" stroke="#222" stroke-width="0.6"/>
<circle cx="452.80" cy="52.00" r="1.89" fill="#fff" stroke="#222" stroke-width="0.6"/>
<circle cx="480.90" cy="72.62" r="1.89" fill="#fff" stroke="#222" stroke-width="0.6"/>
<circle cx="509.00" cy="84.50" r="1.89" fill="#fff" stroke="#222" stroke-width="0.6"/>
<polyline points="424.70,64.81 452.80,65.12 480.90,72.62 509.00,80.12" fill="none" stroke="#222" stroke-width="1.05"/>
<line x1="424.70" y1="67.31" x2="424.70" y2="62.31" stroke="#222" stroke-width="0.6"/>
<line x1="423.10" y1="67.31" x2="426.30" y2="67.31" stroke="#222" stroke-width="0.6"/>
<line x1="423.10" y1="62.31" x2="426.30" y2="62.31" stroke="#222" stroke-width="0.6"/>
<path d="M 422.70 63.21 L 426.70 63.21 L 424.70 66.81 Z" fill="#111"/>
<line x1="452.80" y1="67.62" x2="452.80" y2="62.62" stroke="#222" stroke-width="0.6"/>
<line x1="451.20" y1="67.62" x2="454.40" y2="67.62" stroke="#222" stroke-width="0.6"/>
<line x1="451.20" y1="62.62" x2="454.40" y2="62.62" stroke="#222" stroke-width="0.6"/>
<path d="M 450.80 63.52 L 454.80 63.52 L 452.80 67.12 Z" fill="#111"/>
<path d="M 478.90 71.03 L 482.90 71.03 L 480.90 74.62 Z" fill="#111"/>
<path d="M 507.00 78.53 L 511.00 78.53 L 509.00 82.12 Z" fill="#111"/>
<line x1="426.30" y1="23.40" x2="434.70" y2="23.40" stroke="#222" stroke-width="0.9"/>
<circle cx="430.50" cy="23.40" r="2.1" fill="#111"/>
<line x1="426.30" y1="31.80" x2="434.70" y2="31.80" stroke="#222" stroke-width="0.6"/>
<circle cx="430.50" cy="31.80" r="1.89" fill="#fff" stroke="#222" stroke-width="0.6"/>
<line x1="426.30" y1="39.80" x2="434.70" y2="39.80" stroke="#222" stroke-width="0.9"/>
<path d="M 428.40 38.12 L 432.60 38.12 L 430.50 41.90 Z" fill="#111"/>
<text x="445.80" y="25.40" font-family='"Liberation Serif", serif' font-size="6.9" font-weight="bold" text-anchor="start" fill="#111111" textLength="60.4" lengthAdjust="spacing">Water-soluble pectin</text>
<text x="445.80" y="33.80" font-family='"Liberation Serif", serif' font-size="6.9" font-weight="bold" text-anchor="start" fill="#111111" textLength="55.3" lengthAdjust="spacing">Acid-soluble pectin</text>
<text x="445.80" y="41.70" font-family='"Liberation Serif", serif' font-size="6.9" font-weight="bold" text-anchor="start" fill="#111111" textLength="70.1" lengthAdjust="spacing">Chelating-soluble pectin</text>
<text id="rl9" x="538.91" y="55.00" font-family='"Liberation Serif", serif' font-size="7.0" font-weight="bold" text-anchor="middle" fill="#111111" textLength="31.2" lengthAdjust="spacing" class="ns" transform="rotate(-90 538.91 55.00)">mg g<tspan font-size="6.0" dy="-3.3">-1</tspan><tspan dy="3.3"> DW</tspan></text>
<line x1="313.50" y1="160.10" x2="315.50" y2="160.10" stroke="#444" stroke-width="0.7"/>
<text x="312.30" y="162.00" font-family='"Liberation Serif", serif' font-size="5.5" font-weight="bold" text-anchor="end" fill="#111111">0</text>
<line x1="313.50" y1="147.54" x2="315.50" y2="147.54" stroke="#444" stroke-width="0.7"/>
<text x="312.30" y="149.44" font-family='"Liberation Serif", serif' font-size="5.5" font-weight="bold" text-anchor="end" fill="#111111">50</text>
<line x1="313.50" y1="134.98" x2="315.50" y2="134.98" stroke="#444" stroke-width="0.7"/>
<text x="312.30" y="136.88" font-family='"Liberation Serif", serif' font-size="5.5" font-weight="bold" text-anchor="end" fill="#111111">100</text>
<line x1="313.50" y1="122.42" x2="315.50" y2="122.42" stroke="#444" stroke-width="0.7"/>
<text x="312.30" y="124.32" font-family='"Liberation Serif", serif' font-size="5.5" font-weight="bold" text-anchor="end" fill="#111111">150</text>
<line x1="313.50" y1="109.86" x2="315.50" y2="109.86" stroke="#444" stroke-width="0.7"/>
<text x="312.30" y="111.76" font-family='"Liberation Serif", serif' font-size="5.5" font-weight="bold" text-anchor="end" fill="#111111">200</text>
<line x1="313.50" y1="97.30" x2="315.50" y2="97.30" stroke="#444" stroke-width="0.7"/>
<text x="312.30" y="99.20" font-family='"Liberation Serif", serif' font-size="5.5" font-weight="bold" text-anchor="end" fill="#111111">250</text>
<polyline points="323.50,110.61 351.70,112.37 380.00,122.42 407.90,126.19" fill="none" stroke="#222" stroke-width="1.05"/>
<line x1="323.50" y1="111.87" x2="323.50" y2="109.36" stroke="#222" stroke-width="0.6"/>
<line x1="321.90" y1="111.87" x2="325.10" y2="111.87" stroke="#222" stroke-width="0.6"/>
<line x1="321.90" y1="109.36" x2="325.10" y2="109.36" stroke="#222" stroke-width="0.6"/>
<circle cx="323.50" cy="110.61" r="2.0" fill="#111"/>
<line x1="351.70" y1="114.63" x2="351.70" y2="110.11" stroke="#222" stroke-width="0.6"/>
<line x1="350.10" y1="114.63" x2="353.30" y2="114.63" stroke="#222" stroke-width="0.6"/>
<line x1="350.10" y1="110.11" x2="353.30" y2="110.11" stroke="#222" stroke-width="0.6"/>
<circle cx="351.70" cy="112.37" r="2.0" fill="#111"/>
<line x1="380.00" y1="123.93" x2="380.00" y2="120.91" stroke="#222" stroke-width="0.6"/>
<line x1="378.40" y1="123.93" x2="381.60" y2="123.93" stroke="#222" stroke-width="0.6"/>
<line x1="378.40" y1="120.91" x2="381.60" y2="120.91" stroke="#222" stroke-width="0.6"/>
<circle cx="380.00" cy="122.42" r="2.0" fill="#111"/>
<line x1="407.90" y1="128.95" x2="407.90" y2="123.42" stroke="#222" stroke-width="0.6"/>
<line x1="406.30" y1="128.95" x2="409.50" y2="128.95" stroke="#222" stroke-width="0.6"/>
<line x1="406.30" y1="123.42" x2="409.50" y2="123.42" stroke="#222" stroke-width="0.6"/>
<circle cx="407.90" cy="126.19" r="2.0" fill="#111"/>
<polyline points="323.50,118.15 351.70,122.42 380.00,148.80 407.90,157.59" fill="none" stroke="#222" stroke-width="1.05"/>
<line x1="323.50" y1="125.18" x2="323.50" y2="111.12" stroke="#222" stroke-width="0.6"/>
<line x1="321.90" y1="125.18" x2="325.10" y2="125.18" stroke="#222" stroke-width="0.6"/>
<line x1="321.90" y1="111.12" x2="325.10" y2="111.12" stroke="#222" stroke-width="0.6"/>
<path d="M 321.50 116.55 L 325.50 116.55 L 323.50 120.15 Z" fill="#fff" stroke="#222" stroke-width="0.6"/>
<line x1="351.70" y1="128.70" x2="351.70" y2="116.14" stroke="#222" stroke-width="0.6"/>
<line x1="350.10" y1="128.70" x2="353.30" y2="128.70" stroke="#222" stroke-width="0.6"/>
<line x1="350.10" y1="116.14" x2="353.30" y2="116.14" stroke="#222" stroke-width="0.6"/>
<path d="M 349.70 120.82 L 353.70 120.82 L 351.70 124.42 Z" fill="#fff" stroke="#222" stroke-width="0.6"/>
<line x1="380.00" y1="153.32" x2="380.00" y2="144.27" stroke="#222" stroke-width="0.6"/>
<line x1="378.40" y1="153.32" x2="381.60" y2="153.32" stroke="#222" stroke-width="0.6"/>
<line x1="378.40" y1="144.27" x2="381.60" y2="144.27" stroke="#222" stroke-width="0.6"/>
<path d="M 378.00 147.20 L 382.00 147.20 L 380.00 150.80 Z" fill="#fff" stroke="#222" stroke-width="0.6"/>
<line x1="407.90" y1="158.59" x2="407.90" y2="156.58" stroke="#222" stroke-width="0.6"/>
<line x1="406.30" y1="158.59" x2="409.50" y2="158.59" stroke="#222" stroke-width="0.6"/>
<line x1="406.30" y1="156.58" x2="409.50" y2="156.58" stroke="#222" stroke-width="0.6"/>
<path d="M 405.90 155.99 L 409.90 155.99 L 407.90 159.59 Z" fill="#fff" stroke="#222" stroke-width="0.6"/>
<line x1="353.60" y1="97.20" x2="368.70" y2="97.20" stroke="#222" stroke-width="0.9"/>
<circle cx="361.50" cy="97.20" r="2.1" fill="#111"/>
<line x1="353.60" y1="104.80" x2="368.70" y2="104.80" stroke="#222" stroke-width="0.9"/>
<path d="M 360.00 103.60 L 363.00 103.60 L 361.50 106.30 Z" fill="#fff" stroke="#222" stroke-width="0.6"/>
<text x="373.20" y="99.70" font-family='"Liberation Serif", serif' font-size="6.9" font-weight="bold" text-anchor="start" fill="#111111" textLength="26.3" lengthAdjust="spacing">Cellulose</text>
<text x="373.20" y="107.50" font-family='"Liberation Serif", serif' font-size="6.9" font-weight="bold" text-anchor="start" fill="#111111" textLength="40.4" lengthAdjust="spacing">Hemicellulose</text>
<text id="rl10" x="301.31" y="125.10" font-family='"Liberation Serif", serif' font-size="7.0" font-weight="bold" text-anchor="middle" fill="#111111" textLength="34.6" lengthAdjust="spacing" class="ns" transform="rotate(-90 301.31 125.10)">mg g<tspan font-size="6.0" dy="-3.3">-1</tspan><tspan dy="3.3"> DW</tspan></text>
<text x="323.50" y="171.20" font-family='"Liberation Serif", serif' font-size="6.9" font-weight="bold" text-anchor="middle" fill="#111111">P1</text>
<text x="351.70" y="171.20" font-family='"Liberation Serif", serif' font-size="6.9" font-weight="bold" text-anchor="middle" fill="#111111">P2</text>
<text x="380.00" y="171.20" font-family='"Liberation Serif", serif' font-size="6.9" font-weight="bold" text-anchor="middle" fill="#111111">P3</text>
<text x="407.90" y="171.20" font-family='"Liberation Serif", serif' font-size="6.9" font-weight="bold" text-anchor="middle" fill="#111111">P4</text>
<text x="424.70" y="171.20" font-family='"Liberation Serif", serif' font-size="6.9" font-weight="bold" text-anchor="middle" fill="#111111">P1</text>
<text x="452.80" y="171.20" font-family='"Liberation Serif", serif' font-size="6.9" font-weight="bold" text-anchor="middle" fill="#111111">P2</text>
<text x="480.90" y="171.20" font-family='"Liberation Serif", serif' font-size="6.9" font-weight="bold" text-anchor="middle" fill="#111111">P3</text>
<text x="509.00" y="171.20" font-family='"Liberation Serif", serif' font-size="6.9" font-weight="bold" text-anchor="middle" fill="#111111">P4</text>
<line x1="518.00" y1="162.30" x2="520.00" y2="162.30" stroke="#444" stroke-width="0.7"/>
<text x="521.20" y="164.20" font-family='"Liberation Serif", serif' font-size="5.5" font-weight="bold" text-anchor="start" fill="#111111">100</text>
<line x1="518.00" y1="149.36" x2="520.00" y2="149.36" stroke="#444" stroke-width="0.7"/>
<text x="521.20" y="151.26" font-family='"Liberation Serif", serif' font-size="5.5" font-weight="bold" text-anchor="start" fill="#111111">150</text>
<line x1="518.00" y1="136.42" x2="520.00" y2="136.42" stroke="#444" stroke-width="0.7"/>
<text x="521.20" y="138.32" font-family='"Liberation Serif", serif' font-size="5.5" font-weight="bold" text-anchor="start" fill="#111111">200</text>
<line x1="518.00" y1="123.48" x2="520.00" y2="123.48" stroke="#444" stroke-width="0.7"/>
<text x="521.20" y="125.38" font-family='"Liberation Serif", serif' font-size="5.5" font-weight="bold" text-anchor="start" fill="#111111">250</text>
<line x1="518.00" y1="110.54" x2="520.00" y2="110.54" stroke="#444" stroke-width="0.7"/>
<text x="521.20" y="112.44" font-family='"Liberation Serif", serif' font-size="5.5" font-weight="bold" text-anchor="start" fill="#111111">300</text>
<line x1="518.00" y1="97.60" x2="520.00" y2="97.60" stroke="#444" stroke-width="0.7"/>
<text x="521.20" y="99.50" font-family='"Liberation Serif", serif' font-size="5.5" font-weight="bold" text-anchor="start" fill="#111111">350</text>
<polyline points="424.70,107.18 452.80,118.82 480.90,147.29 509.00,153.24" fill="none" stroke="#222" stroke-width="1.05"/>
<line x1="424.70" y1="109.25" x2="424.70" y2="105.11" stroke="#222" stroke-width="0.6"/>
<line x1="423.10" y1="109.25" x2="426.30" y2="109.25" stroke="#222" stroke-width="0.6"/>
<line x1="423.10" y1="105.11" x2="426.30" y2="105.11" stroke="#222" stroke-width="0.6"/>
<circle cx="424.70" cy="107.18" r="2.0" fill="#111"/>
<line x1="452.80" y1="120.89" x2="452.80" y2="116.75" stroke="#222" stroke-width="0.6"/>
<line x1="451.20" y1="120.89" x2="454.40" y2="120.89" stroke="#222" stroke-width="0.6"/>
<line x1="451.20" y1="116.75" x2="454.40" y2="116.75" stroke="#222" stroke-width="0.6"/>
<circle cx="452.80" cy="118.82" r="2.0" fill="#111"/>
<line x1="480.90" y1="149.36" x2="480.90" y2="145.22" stroke="#222" stroke-width="0.6"/>
<line x1="479.30" y1="149.36" x2="482.50" y2="149.36" stroke="#222" stroke-width="0.6"/>
<line x1="479.30" y1="145.22" x2="482.50" y2="145.22" stroke="#222" stroke-width="0.6"/>
<circle cx="480.90" cy="147.29" r="2.0" fill="#111"/>
<line x1="509.00" y1="155.83" x2="509.00" y2="150.65" stroke="#222" stroke-width="0.6"/>
<line x1="507.40" y1="155.83" x2="510.60" y2="155.83" stroke="#222" stroke-width="0.6"/>
<line x1="507.40" y1="150.65" x2="510.60" y2="150.65" stroke="#222" stroke-width="0.6"/>
<circle cx="509.00" cy="153.24" r="2.0" fill="#111"/>
<line x1="468.20" y1="98.80" x2="484.10" y2="98.80" stroke="#222" stroke-width="0.9"/>
<circle cx="475.90" cy="98.80" r="2.1" fill="#111"/>
<text x="488.20" y="101.10" font-family='"Liberation Serif", serif' font-size="6.9" font-weight="bold" text-anchor="start" fill="#111111" textLength="18.8" lengthAdjust="spacing">Lignin</text>
<text id="rl11" x="539.11" y="127.80" font-family='"Liberation Serif", serif' font-size="7.0" font-weight="bold" text-anchor="middle" fill="#111111" textLength="31.5" lengthAdjust="spacing" class="ns" transform="rotate(-90 539.11 127.80)">mg g<tspan font-size="6.0" dy="-3.3">-1</tspan><tspan dy="3.3"> DW</tspan></text>
<text x="290.00" y="195.00" font-family='"Liberation Serif", serif' font-size="11.5" font-weight="bold" text-anchor="middle" fill="#111111">E</text>
<line x1="314.60" y1="190.60" x2="516.80" y2="190.60" stroke="#a8a8a8" stroke-width="0.8"/>
<line x1="314.60" y1="190.60" x2="314.60" y2="336.30" stroke="#a8a8a8" stroke-width="0.8"/>
<line x1="415.10" y1="190.60" x2="415.10" y2="336.30" stroke="#a8a8a8" stroke-width="0.8"/>
<line x1="516.80" y1="190.60" x2="516.80" y2="336.30" stroke="#a8a8a8" stroke-width="0.8"/>
<line x1="314.60" y1="263.30" x2="516.80" y2="263.30" stroke="#a8a8a8" stroke-width="0.8"/>
<line x1="314.60" y1="336.30" x2="516.80" y2="336.30" stroke="#a8a8a8" stroke-width="0.8"/>
<line x1="313.10" y1="263.30" x2="314.60" y2="263.30" stroke="#444" stroke-width="0.7"/>
<text x="311.90" y="265.20" font-family='"Liberation Serif", serif' font-size="5.5" font-weight="bold" text-anchor="end" fill="#111111">40</text>
<line x1="313.10" y1="248.76" x2="314.60" y2="248.76" stroke="#444" stroke-width="0.7"/>
<text x="311.90" y="250.66" font-family='"Liberation Serif", serif' font-size="5.5" font-weight="bold" text-anchor="end" fill="#111111">50</text>
<line x1="313.10" y1="234.22" x2="314.60" y2="234.22" stroke="#444" stroke-width="0.7"/>
<text x="311.90" y="236.12" font-family='"Liberation Serif", serif' font-size="5.5" font-weight="bold" text-anchor="end" fill="#111111">60</text>
<line x1="313.10" y1="219.68" x2="314.60" y2="219.68" stroke="#444" stroke-width="0.7"/>
<text x="311.90" y="221.58" font-family='"Liberation Serif", serif' font-size="5.5" font-weight="bold" text-anchor="end" fill="#111111">70</text>
<line x1="313.10" y1="205.14" x2="314.60" y2="205.14" stroke="#444" stroke-width="0.7"/>
<text x="311.90" y="207.04" font-family='"Liberation Serif", serif' font-size="5.5" font-weight="bold" text-anchor="end" fill="#111111">80</text>
<line x1="313.10" y1="190.60" x2="314.60" y2="190.60" stroke="#444" stroke-width="0.7"/>
<text x="311.90" y="192.50" font-family='"Liberation Serif", serif' font-size="5.5" font-weight="bold" text-anchor="end" fill="#111111">90</text>
<line x1="516.80" y1="263.30" x2="518.30" y2="263.30" stroke="#444" stroke-width="0.7"/>
<text x="519.50" y="265.20" font-family='"Liberation Serif", serif' font-size="5.5" font-weight="bold" text-anchor="start" fill="#111111">40</text>
<line x1="516.80" y1="248.76" x2="518.30" y2="248.76" stroke="#444" stroke-width="0.7"/>
<text x="519.50" y="250.66" font-family='"Liberation Serif", serif' font-size="5.5" font-weight="bold" text-anchor="start" fill="#111111">50</text>
<line x1="516.80" y1="234.22" x2="518.30" y2="234.22" stroke="#444" stroke-width="0.7"/>
<text x="519.50" y="236.12" font-family='"Liberation Serif", serif' font-size="5.5" font-weight="bold" text-anchor="start" fill="#111111">60</text>
<line x1="516.80" y1="219.68" x2="518.30" y2="219.68" stroke="#444" stroke-width="0.7"/>
<text x="519.50" y="221.58" font-family='"Liberation Serif", serif' font-size="5.5" font-weight="bold" text-anchor="start" fill="#111111">70</text>
<line x1="516.80" y1="205.14" x2="518.30" y2="205.14" stroke="#444" stroke-width="0.7"/>
<text x="519.50" y="207.04" font-family='"Liberation Serif", serif' font-size="5.5" font-weight="bold" text-anchor="start" fill="#111111">80</text>
<line x1="516.80" y1="190.60" x2="518.30" y2="190.60" stroke="#444" stroke-width="0.7"/>
<text x="519.50" y="192.50" font-family='"Liberation Serif", serif' font-size="5.5" font-weight="bold" text-anchor="start" fill="#111111">90</text>
<rect x="324.15" y="214.59" width="13.70" height="48.71" fill="#c4c4c4" stroke="#a0a0a0" stroke-width="0.6"/>
<line x1="331.00" y1="207.32" x2="331.00" y2="214.59" stroke="#7a7a7a" stroke-width="0.9"/>
<line x1="327.57" y1="207.32" x2="334.43" y2="207.32" stroke="#333" stroke-width="0.8"/>
<line x1="331.00" y1="263.30" x2="331.00" y2="264.50" stroke="#555" stroke-width="0.6"/>
<text x="331.00" y="205.92" font-family='"Liberation Serif", serif' font-size="8" font-weight="bold" text-anchor="middle" fill="#111111">a</text>
<rect x="347.15" y="234.22" width="13.70" height="29.08" fill="#c4c4c4" stroke="#a0a0a0" stroke-width="0.6"/>
<line x1="354.00" y1="232.04" x2="354.00" y2="234.22" stroke="#7a7a7a" stroke-width="0.9"/>
<line x1="350.57" y1="232.04" x2="357.43" y2="232.04" stroke="#333" stroke-width="0.8"/>
<line x1="354.00" y1="263.30" x2="354.00" y2="264.50" stroke="#555" stroke-width="0.6"/>
<text x="354.00" y="230.64" font-family='"Liberation Serif", serif' font-size="8" font-weight="bold" text-anchor="middle" fill="#111111">b</text>
<rect x="370.35" y="232.04" width="13.70" height="31.26" fill="#c4c4c4" stroke="#a0a0a0" stroke-width="0.6"/>
<line x1="377.20" y1="225.50" x2="377.20" y2="232.04" stroke="#7a7a7a" stroke-width="0.9"/>
<line x1="373.77" y1="225.50" x2="380.62" y2="225.50" stroke="#333" stroke-width="0.8"/>
<line x1="377.20" y1="263.30" x2="377.20" y2="264.50" stroke="#555" stroke-width="0.6"/>
<text x="377.20" y="224.10" font-family='"Liberation Serif", serif' font-size="8" font-weight="bold" text-anchor="middle" fill="#111111">b</text>
<rect x="392.95" y="243.23" width="13.70" height="20.07" fill="#c4c4c4" stroke="#a0a0a0" stroke-width="0.6"/>
<line x1="399.80" y1="241.05" x2="399.80" y2="243.23" stroke="#7a7a7a" stroke-width="0.9"/>
<line x1="396.38" y1="241.05" x2="403.23" y2="241.05" stroke="#333" stroke-width="0.8"/>
<line x1="399.80" y1="263.30" x2="399.80" y2="264.50" stroke="#555" stroke-width="0.6"/>
<text x="399.80" y="239.65" font-family='"Liberation Serif", serif' font-size="8" font-weight="bold" text-anchor="middle" fill="#111111">c</text>
<rect x="424.95" y="218.23" width="13.70" height="45.07" fill="#c4c4c4" stroke="#a0a0a0" stroke-width="0.6"/>
<line x1="431.80" y1="210.96" x2="431.80" y2="218.23" stroke="#7a7a7a" stroke-width="0.9"/>
<line x1="428.38" y1="210.96" x2="435.23" y2="210.96" stroke="#333" stroke-width="0.8"/>
<line x1="431.80" y1="263.30" x2="431.80" y2="264.50" stroke="#555" stroke-width="0.6"/>
<text x="431.80" y="209.56" font-family='"Liberation Serif", serif' font-size="8" font-weight="bold" text-anchor="middle" fill="#111111">a</text>
<rect x="447.85" y="229.13" width="13.70" height="34.17" fill="#c4c4c4" stroke="#a0a0a0" stroke-width="0.6"/>
<line x1="454.70" y1="219.68" x2="454.70" y2="229.13" stroke="#7a7a7a" stroke-width="0.9"/>
<line x1="451.27" y1="219.68" x2="458.12" y2="219.68" stroke="#333" stroke-width="0.8"/>
<line x1="454.70" y1="263.30" x2="454.70" y2="264.50" stroke="#555" stroke-width="0.6"/>
<text x="454.70" y="218.28" font-family='"Liberation Serif", serif' font-size="8" font-weight="bold" text-anchor="middle" fill="#111111">ab</text>
<rect x="470.65" y="229.13" width="13.70" height="34.17" fill="#c4c4c4" stroke="#a0a0a0" stroke-width="0.6"/>
<line x1="477.50" y1="219.68" x2="477.50" y2="229.13" stroke="#7a7a7a" stroke-width="0.9"/>
<line x1="474.07" y1="219.68" x2="480.93" y2="219.68" stroke="#333" stroke-width="0.8"/>
<line x1="477.50" y1="263.30" x2="477.50" y2="264.50" stroke="#555" stroke-width="0.6"/>
<text x="477.50" y="218.28" font-family='"Liberation Serif", serif' font-size="8" font-weight="bold" text-anchor="middle" fill="#111111">ab</text>
<rect x="493.75" y="232.77" width="13.70" height="30.53" fill="#c4c4c4" stroke="#a0a0a0" stroke-width="0.6"/>
<line x1="500.60" y1="231.31" x2="500.60" y2="232.77" stroke="#7a7a7a" stroke-width="0.9"/>
<line x1="497.18" y1="231.31" x2="504.03" y2="231.31" stroke="#333" stroke-width="0.8"/>
<line x1="500.60" y1="263.30" x2="500.60" y2="264.50" stroke="#555" stroke-width="0.6"/>
<text x="500.60" y="229.91" font-family='"Liberation Serif", serif' font-size="8" font-weight="bold" text-anchor="middle" fill="#111111">b</text>
<line x1="313.10" y1="336.30" x2="314.60" y2="336.30" stroke="#444" stroke-width="0.7"/>
<text x="311.90" y="338.20" font-family='"Liberation Serif", serif' font-size="5.5" font-weight="bold" text-anchor="end" fill="#111111">20</text>
<line x1="313.10" y1="315.30" x2="314.60" y2="315.30" stroke="#444" stroke-width="0.7"/>
<text x="311.90" y="317.20" font-family='"Liberation Serif", serif' font-size="5.5" font-weight="bold" text-anchor="end" fill="#111111">30</text>
<line x1="313.10" y1="294.30" x2="314.60" y2="294.30" stroke="#444" stroke-width="0.7"/>
<text x="311.90" y="296.20" font-family='"Liberation Serif", serif' font-size="5.5" font-weight="bold" text-anchor="end" fill="#111111">40</text>
<line x1="313.10" y1="273.30" x2="314.60" y2="273.30" stroke="#444" stroke-width="0.7"/>
<text x="311.90" y="275.20" font-family='"Liberation Serif", serif' font-size="5.5" font-weight="bold" text-anchor="end" fill="#111111">50</text>
<rect x="324.15" y="314.25" width="13.70" height="22.05" fill="#c4c4c4" stroke="#a0a0a0" stroke-width="0.6"/>
<line x1="331.00" y1="309.63" x2="331.00" y2="314.25" stroke="#7a7a7a" stroke-width="0.9"/>
<line x1="327.57" y1="309.63" x2="334.43" y2="309.63" stroke="#333" stroke-width="0.8"/>
<line x1="331.00" y1="336.30" x2="331.00" y2="337.50" stroke="#555" stroke-width="0.6"/>
<text x="331.00" y="308.23" font-family='"Liberation Serif", serif' font-size="8" font-weight="bold" text-anchor="middle" fill="#111111">c</text>
<rect x="347.15" y="311.94" width="13.70" height="24.36" fill="#c4c4c4" stroke="#a0a0a0" stroke-width="0.6"/>
<line x1="354.00" y1="305.64" x2="354.00" y2="311.94" stroke="#7a7a7a" stroke-width="0.9"/>
<line x1="350.57" y1="305.64" x2="357.43" y2="305.64" stroke="#333" stroke-width="0.8"/>
<line x1="354.00" y1="336.30" x2="354.00" y2="337.50" stroke="#555" stroke-width="0.6"/>
<text x="354.00" y="304.24" font-family='"Liberation Serif", serif' font-size="8" font-weight="bold" text-anchor="middle" fill="#111111">bc</text>
<rect x="370.35" y="304.80" width="13.70" height="31.50" fill="#c4c4c4" stroke="#a0a0a0" stroke-width="0.6"/>
<line x1="377.20" y1="301.65" x2="377.20" y2="304.80" stroke="#7a7a7a" stroke-width="0.9"/>
<line x1="373.77" y1="301.65" x2="380.62" y2="301.65" stroke="#333" stroke-width="0.8"/>
<line x1="377.20" y1="336.30" x2="377.20" y2="337.50" stroke="#555" stroke-width="0.6"/>
<text x="377.20" y="300.25" font-family='"Liberation Serif", serif' font-size="8" font-weight="bold" text-anchor="middle" fill="#111111">b</text>
<rect x="392.95" y="289.05" width="13.70" height="47.25" fill="#c4c4c4" stroke="#a0a0a0" stroke-width="0.6"/>
<line x1="399.80" y1="282.75" x2="399.80" y2="289.05" stroke="#7a7a7a" stroke-width="0.9"/>
<line x1="396.38" y1="282.75" x2="403.23" y2="282.75" stroke="#333" stroke-width="0.8"/>
<line x1="399.80" y1="336.30" x2="399.80" y2="337.50" stroke="#555" stroke-width="0.6"/>
<text x="399.80" y="281.35" font-family='"Liberation Serif", serif' font-size="8" font-weight="bold" text-anchor="middle" fill="#111111">a</text>
<line x1="516.80" y1="336.30" x2="518.30" y2="336.30" stroke="#444" stroke-width="0.7"/>
<text x="519.50" y="338.20" font-family='"Liberation Serif", serif' font-size="5.5" font-weight="bold" text-anchor="start" fill="#111111">0.50</text>
<line x1="516.80" y1="316.03" x2="518.30" y2="316.03" stroke="#444" stroke-width="0.7"/>
<text x="519.50" y="317.93" font-family='"Liberation Serif", serif' font-size="5.5" font-weight="bold" text-anchor="start" fill="#111111">0.55</text>
<line x1="516.80" y1="295.77" x2="518.30" y2="295.77" stroke="#444" stroke-width="0.7"/>
<text x="519.50" y="297.67" font-family='"Liberation Serif", serif' font-size="5.5" font-weight="bold" text-anchor="start" fill="#111111">0.60</text>
<line x1="516.80" y1="275.50" x2="518.30" y2="275.50" stroke="#444" stroke-width="0.7"/>
<text x="519.50" y="277.40" font-family='"Liberation Serif", serif' font-size="5.5" font-weight="bold" text-anchor="start" fill="#111111">0.65</text>
<rect x="424.95" y="286.85" width="13.70" height="49.45" fill="#c4c4c4" stroke="#a0a0a0" stroke-width="0.6"/>
<line x1="431.80" y1="284.42" x2="431.80" y2="286.85" stroke="#7a7a7a" stroke-width="0.9"/>
<line x1="428.38" y1="284.42" x2="435.23" y2="284.42" stroke="#333" stroke-width="0.8"/>
<line x1="431.80" y1="336.30" x2="431.80" y2="337.50" stroke="#555" stroke-width="0.6"/>
<text x="431.80" y="283.02" font-family='"Liberation Serif", serif' font-size="8" font-weight="bold" text-anchor="middle" fill="#111111">a</text>
<rect x="447.85" y="299.01" width="13.70" height="37.29" fill="#c4c4c4" stroke="#a0a0a0" stroke-width="0.6"/>
<line x1="454.70" y1="294.96" x2="454.70" y2="299.01" stroke="#7a7a7a" stroke-width="0.9"/>
<line x1="451.27" y1="294.96" x2="458.12" y2="294.96" stroke="#333" stroke-width="0.8"/>
<line x1="454.70" y1="336.30" x2="454.70" y2="337.50" stroke="#555" stroke-width="0.6"/>
<text x="454.70" y="293.56" font-family='"Liberation Serif", serif' font-size="8" font-weight="bold" text-anchor="middle" fill="#111111">b</text>
<rect x="470.65" y="303.06" width="13.70" height="33.24" fill="#c4c4c4" stroke="#a0a0a0" stroke-width="0.6"/>
<line x1="477.50" y1="299.01" x2="477.50" y2="303.06" stroke="#7a7a7a" stroke-width="0.9"/>
<line x1="474.07" y1="299.01" x2="480.93" y2="299.01" stroke="#333" stroke-width="0.8"/>
<line x1="477.50" y1="336.30" x2="477.50" y2="337.50" stroke="#555" stroke-width="0.6"/>
<text x="477.50" y="297.61" font-family='"Liberation Serif", serif' font-size="8" font-weight="bold" text-anchor="middle" fill="#111111">b</text>
<rect x="493.75" y="321.30" width="13.70" height="15.00" fill="#c4c4c4" stroke="#a0a0a0" stroke-width="0.6"/>
<line x1="500.60" y1="318.06" x2="500.60" y2="321.30" stroke="#7a7a7a" stroke-width="0.9"/>
<line x1="497.18" y1="318.06" x2="504.03" y2="318.06" stroke="#333" stroke-width="0.8"/>
<line x1="500.60" y1="336.30" x2="500.60" y2="337.50" stroke="#555" stroke-width="0.6"/>
<text x="500.60" y="316.66" font-family='"Liberation Serif", serif' font-size="8" font-weight="bold" text-anchor="middle" fill="#111111">c</text>
<text x="331.00" y="343.60" font-family='"Liberation Serif", serif' font-size="6.8" font-weight="bold" text-anchor="middle" fill="#111111">P1</text>
<text x="354.00" y="343.60" font-family='"Liberation Serif", serif' font-size="6.8" font-weight="bold" text-anchor="middle" fill="#111111">P2</text>
<text x="377.20" y="343.60" font-family='"Liberation Serif", serif' font-size="6.8" font-weight="bold" text-anchor="middle" fill="#111111">P3</text>
<text x="399.80" y="343.60" font-family='"Liberation Serif", serif' font-size="6.8" font-weight="bold" text-anchor="middle" fill="#111111">P4</text>
<text x="431.80" y="343.60" font-family='"Liberation Serif", serif' font-size="6.8" font-weight="bold" text-anchor="middle" fill="#111111">P1</text>
<text x="454.70" y="343.60" font-family='"Liberation Serif", serif' font-size="6.8" font-weight="bold" text-anchor="middle" fill="#111111">P2</text>
<text x="477.50" y="343.60" font-family='"Liberation Serif", serif' font-size="6.8" font-weight="bold" text-anchor="middle" fill="#111111">P3</text>
<text x="500.60" y="343.60" font-family='"Liberation Serif", serif' font-size="6.8" font-weight="bold" text-anchor="middle" fill="#111111">P4</text>
<text id="rl12" x="291.58" y="226.00" font-family='"Liberation Serif", serif' font-size="6.6" font-weight="bold" text-anchor="middle" fill="#111111" textLength="36.5" lengthAdjust="spacing" class="ns" transform="rotate(-90 291.58 226.00)">ATP content</text>
<text id="rl13" x="300.24" y="225.00" font-family='"Liberation Serif", serif' font-size="7.1" font-weight="bold" text-anchor="middle" fill="#111111" textLength="36.5" lengthAdjust="spacing" class="ns" transform="rotate(-90 300.24 225.00)">(&#956;g g<tspan font-size="5.6" dy="-3">-1</tspan><tspan dy="3"> FW)</tspan></text>
<text id="rl14" x="534.01" y="226.70" font-family='"Liberation Serif", serif' font-size="6.4" font-weight="bold" text-anchor="middle" fill="#111111" textLength="34.6" lengthAdjust="spacing" class="ns" transform="rotate(-90 534.01 226.70)">ADP content</text>
<text id="rl15" x="543.48" y="224.60" font-family='"Liberation Serif", serif' font-size="6.9" font-weight="bold" text-anchor="middle" fill="#111111" textLength="33.8" lengthAdjust="spacing" class="ns" transform="rotate(-90 543.48 224.60)">(&#956;g g<tspan font-size="5.6" dy="-3">-1</tspan><tspan dy="3"> FW)</tspan></text>
<text id="rl16" x="290.21" y="298.70" font-family='"Liberation Serif", serif' font-size="6.4" font-weight="bold" text-anchor="middle" fill="#111111" textLength="38.2" lengthAdjust="spacing" class="ns" transform="rotate(-90 290.21 298.70)">AMP Content</text>
<text id="rl17" x="299.44" y="297.00" font-family='"Liberation Serif", serif' font-size="7.1" font-weight="bold" text-anchor="middle" fill="#111111" textLength="37.1" lengthAdjust="spacing" class="ns" transform="rotate(-90 299.44 297.00)">(&#956;g g<tspan font-size="5.6" dy="-3">-1</tspan><tspan dy="3"> FW)</tspan></text>
<text id="rl18" x="536.81" y="302.10" font-family='"Liberation Serif", serif' font-size="7.0" font-weight="bold" text-anchor="middle" fill="#111111" textLength="44.2" lengthAdjust="spacing" class="ns" transform="rotate(-90 536.81 302.10)">Energy charge</text>
</svg></body></html>
